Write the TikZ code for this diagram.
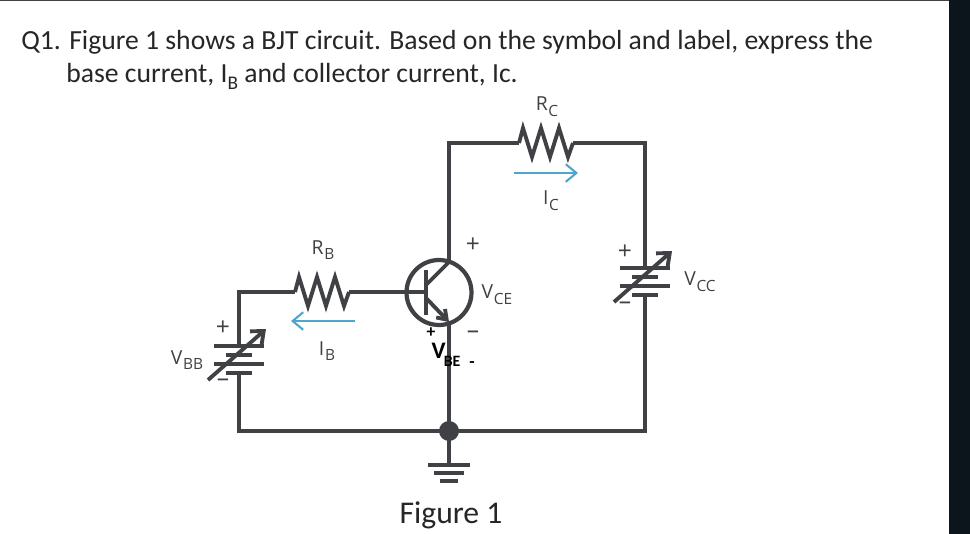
\documentclass[tikz,border=0pt]{standalone}
\usepackage{fontspec}
\setmainfont{Carlito}
\newfontfamily\labelfont{Open Sans}
\usetikzlibrary{arrows.meta}
\definecolor{wire}{HTML}{3F4145}
\definecolor{current}{HTML}{4FA6CC}
\definecolor{edgeband}{HTML}{0D151C}
\newcommand{\lowsub}[2][8.8]{\raisebox{-0.55ex}{\fontsize{#1}{9}\selectfont #2}}
\newcommand{\vname}[2]{#1\kern0.4pt\lowsub{#2}}
\tikzset{
  wireline/.style={draw=wire, line width=2.2pt, line join=miter},
  thinbar/.style={draw=wire, line width=2.4pt},
  lab/.style={text=wire, font=\labelfont\fontsize{11}{12}\selectfont, inner sep=0pt},
  sign/.style={text=wire, font=\labelfont\fontsize{14}{14}\selectfont, inner sep=0pt},
  heading/.style={anchor=base west, inner sep=0pt, text=black!85, font=\fontsize{15.74}{18}\selectfont},
  flow/.style={draw=current, line width=1.2pt, -{Straight Barb[length=6pt,width=10pt]}},
  resistor/.pic={
    \draw[wireline] (-27,0) -- (-23,-15) -- (-14,14) -- (-5,-15) -- (4,14) -- (13,-15) -- (22,14) -- (27,0);
  },
  battery/.pic={
    \draw[thinbar] (-25,0) -- (25,0) (-13,9) -- (13,9) (-25,18) -- (25,18) (-13,27) -- (13,27);
    \draw[wireline, -{Straight Barb[length=6pt,width=10pt]}] (-31,34) -- (27,-17);
  },
}
\begin{document}
\begin{tikzpicture}[x=0.02cm, y=-0.02cm]
  \useasboundingbox (0,0) rectangle (970,534);
  \fill[edgeband] (949,0) rectangle (970,534);
  \fill[wire] (0,0) rectangle (949,1.5);

  % question text
  \node[heading] (line1) at (21,50) {Q1. Figure 1 shows a BJT circuit. Based on the symbol and label, express the};
  \node[heading] (line2) at (66,82) {base current, I\lowsub[11]{B} and collector current, Ic.};

  % corners and junctions
  \coordinate (tl) at (449,143);
  \coordinate (tr) at (645,143);
  \coordinate (bl) at (239,431);
  \coordinate (br) at (645,431);
  \coordinate (wb) at (239,292);
  \coordinate (rbL) at (295,292);
  \coordinate (rbR) at (349,292);
  \coordinate (rcL) at (519,143);
  \coordinate (rcR) at (573,143);
  \coordinate (base) at (426,292);
  \coordinate (coll) at (449,262);
  \coordinate (emit) at (449,322);
  \coordinate (gnd) at (449,465);
  \coordinate (bbT) at (239,346);
  \coordinate (bbB) at (239,373);
  \coordinate (ccT) at (645,268);
  \coordinate (ccB) at (645,295);

  % transistor
  \node[circle, draw=wire, line width=2.4pt, minimum size=1.3cm, inner sep=0pt] (Q) at (439,292.5) {};
  \draw[wire, line width=2.8pt] (426,270) -- (426,315);
  \draw[wireline] (426,285) -- (coll);
  \draw[wireline, -{Straight Barb[length=5pt,width=7pt]}] (426,298) -- (emit);

  % wires
  \draw[wireline] (coll) -- (tl) -- (rcL);
  \draw[wireline] (rcR) -- (tr) -- (ccT);
  \draw[wireline] (ccB) -- (br) -- (bl) -- (bbB);
  \draw[wireline] (bbT) -- (wb) -- (rbL);
  \draw[wireline] (rbR) -- (base);
  \draw[wireline] (emit) -- (gnd);

  % parts
  \pic at (322,292) {resistor};
  \pic at (546,143) {resistor};
  \pic at (bbT) {battery};
  \pic at (ccT) {battery};

  % ground
  \node[circle, fill=wire, minimum size=0.4cm, inner sep=0pt] (dot) at (449,431) {};
  \draw[thinbar] (428,465) -- (470,465) (434,473) -- (464,473) (440,481) -- (458,481);

  % currents
  \coordinate (ibA) at (355,321);
  \coordinate (ibB) at (291,321);
  \coordinate (icA) at (514,173);
  \coordinate (icB) at (578,173);
  \draw[flow] (ibA) -- (ibB);
  \draw[flow] (icA) -- (icB);

  % labels
  \node[lab] (Rb) at (323,250) {\vname{R}{B}};
  \node[lab] (Rc) at (547,107) {\vname{R}{C}};
  \node[lab] (Ib) at (327,351) {\vname{I}{B}};
  \node[lab] (Ic) at (551,201) {\vname{I}{C}};
  \node[lab] (Vbb) at (187,360) {\vname{V}{BB}};
  \node[lab] (Vcc) at (700,282) {\vname{V}{CC}};
  \node[lab] (Vce) at (497,295) {\vname{V}{CE}};
  \node[sign] (vceP) at (473,245) {+};
  \node[sign] (vceM) at (473,335) {–};
  \node[sign] (bbP) at (223,328) {+};
  \node[sign] (bbM) at (223,383) {–};
  \node[sign] (ccP) at (625,252) {+};
  \node[sign] (ccM) at (625,306) {–};
  \node[inner sep=0pt, font=\bfseries\fontsize{10}{10}\selectfont] (vbeP) at (431,333) {+};
  \node[inner sep=0pt, font=\fontsize{13.5}{14}\selectfont] (Vbe) at (446,355) {\textbf{V}\kern-1pt\raisebox{-0.7ex}{\fontsize{9}{10}\selectfont\bfseries BE}};
  \node[inner sep=0pt, font=\bfseries\fontsize{10}{10}\selectfont] (vbeM) at (472,365) {-};
  \node[inner sep=0pt, text=black!85, font=\fontsize{18}{20}\selectfont] (cap) at (451,515) {Figure 1};
\end{tikzpicture}
\end{document}
